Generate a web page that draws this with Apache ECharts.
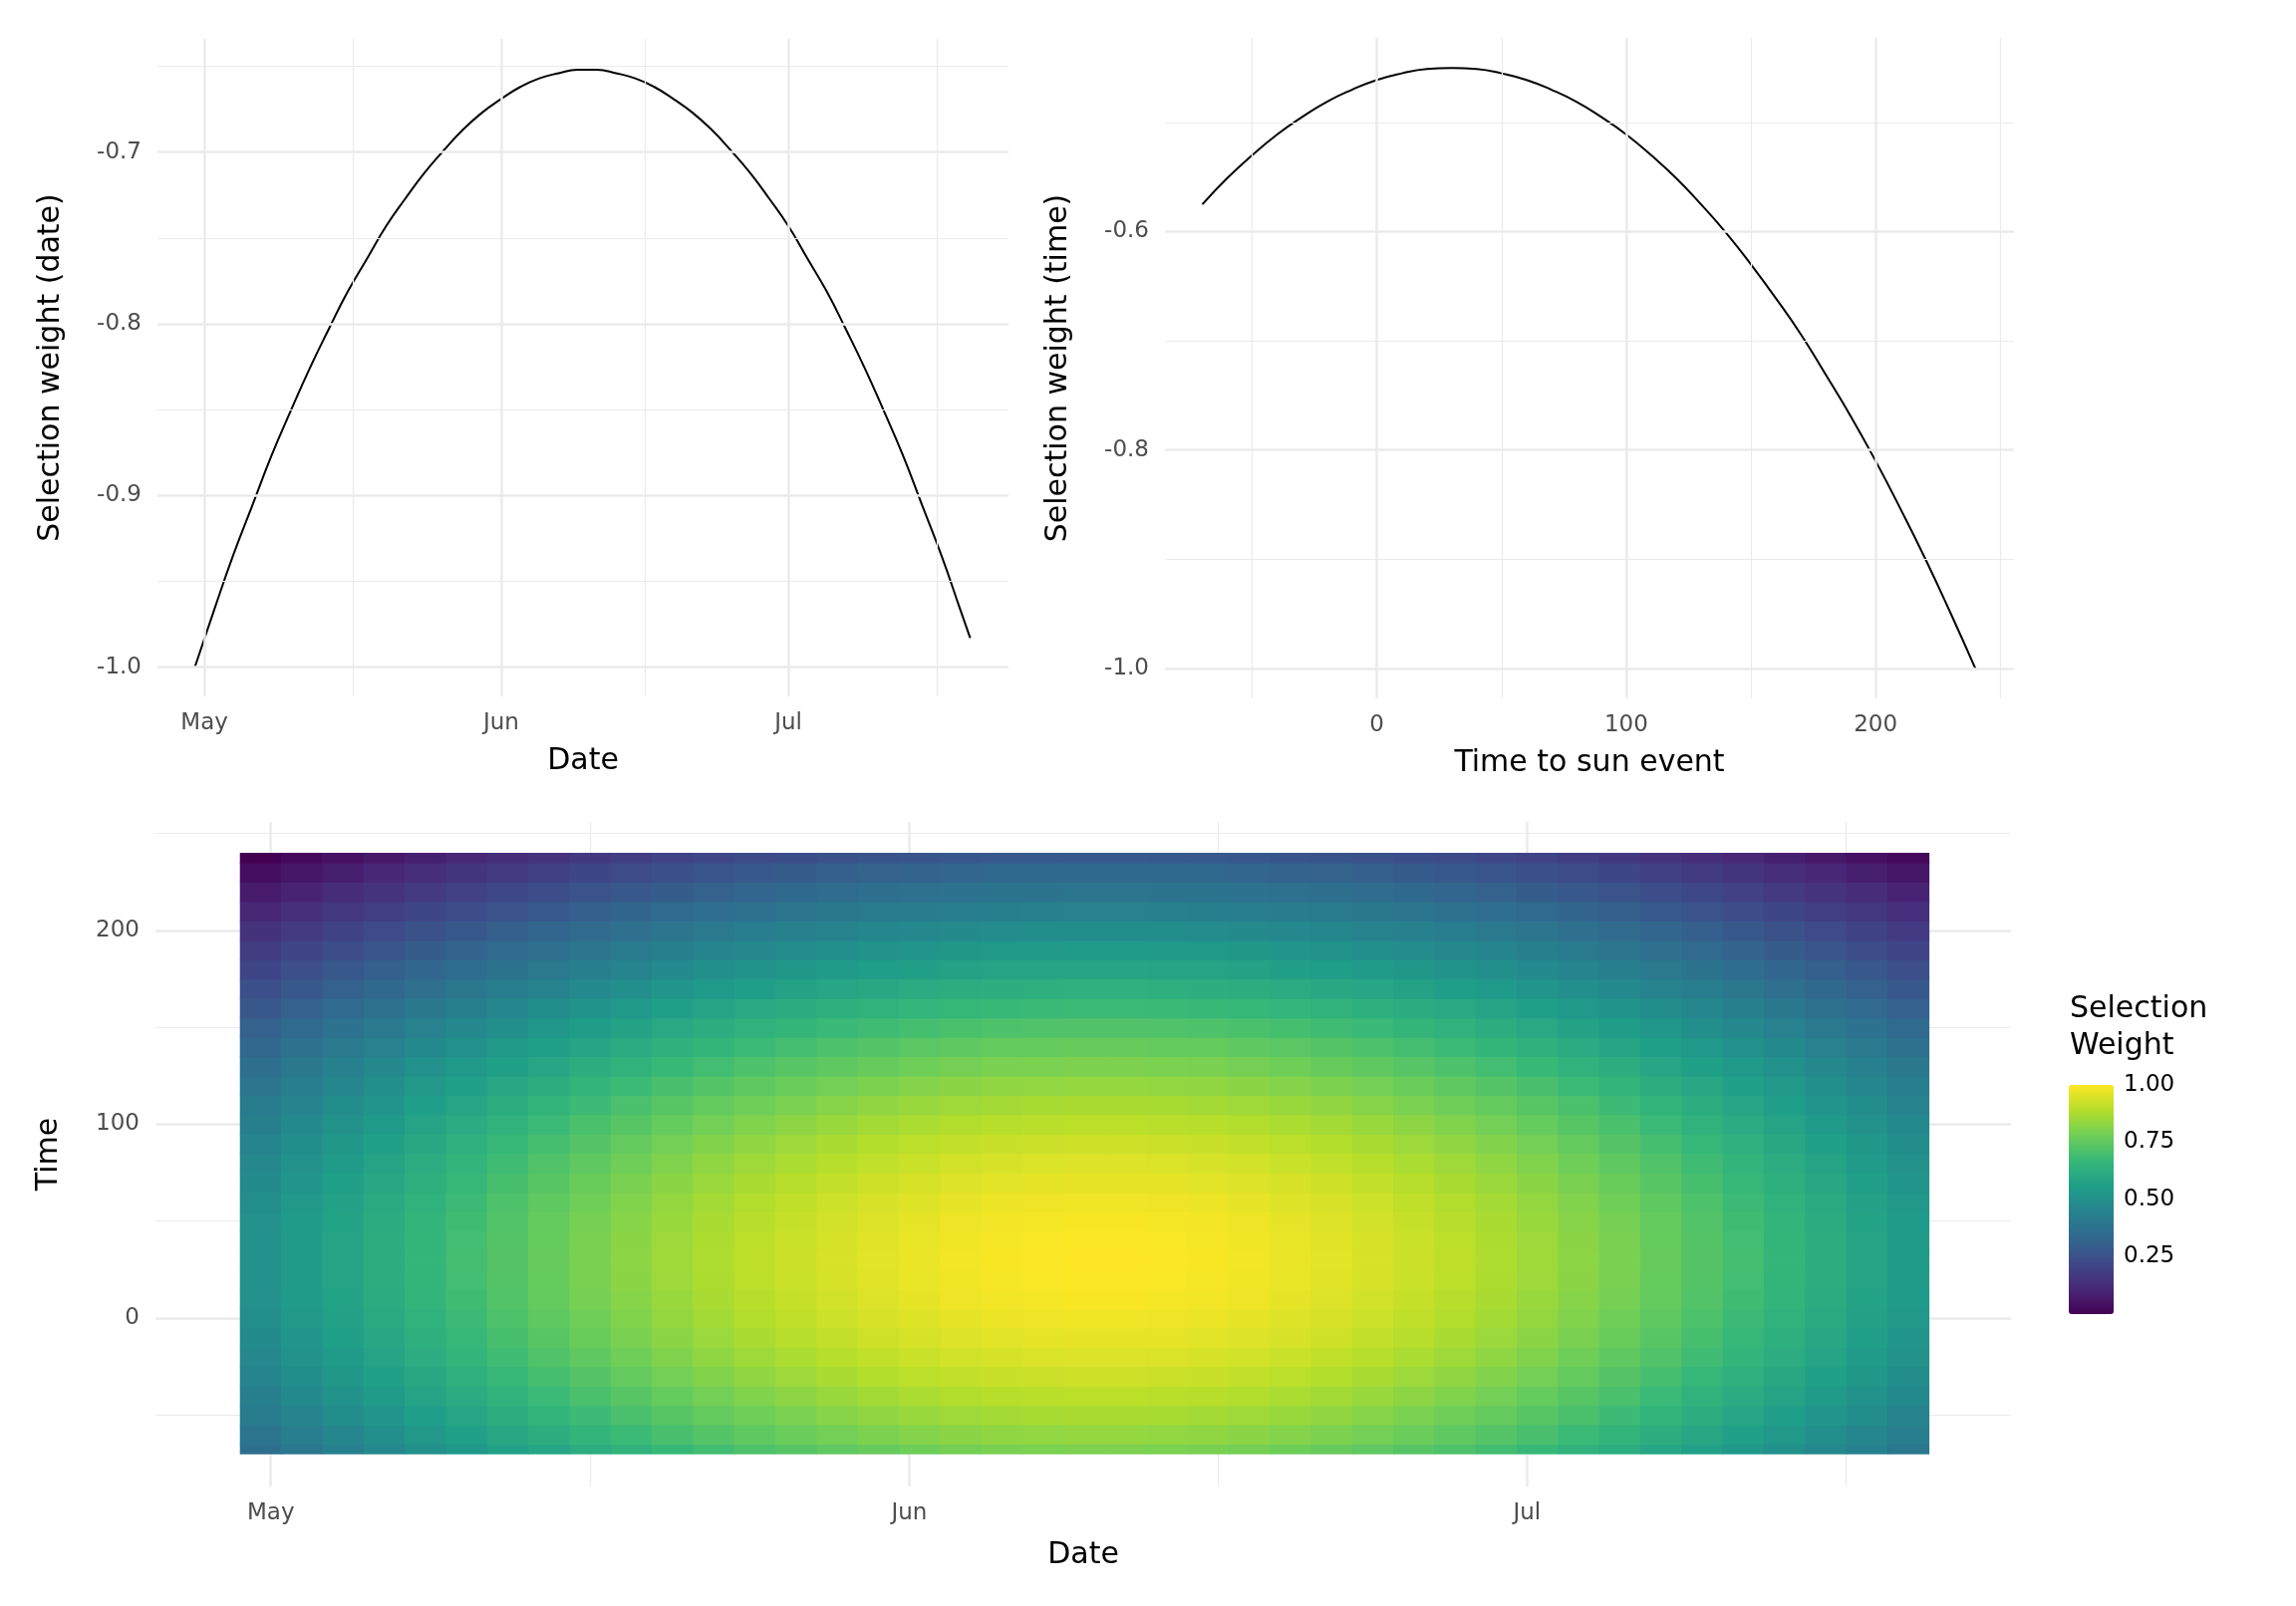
<!DOCTYPE html>
<html>
<head>
<meta charset="utf-8">
<script src="https://cdn.jsdelivr.net/npm/echarts@6/dist/echarts.min.js"></script>
<style>html,body{margin:0;background:#fff}#c{width:2304px;height:1612px}</style>
</head>
<body>
<div id="c"></div>
<script>
// days from May 1, every 2 days
const dateDays = [-1,1,3,5,7,9,11,13,15,17,19,21,23,25,27,29,31,33,35,37,39,41,43,45,47,49,51,53,55,57,59,61,63,65,67,69,71,73,75,77,79];
const dateWeight = [-1.000,-0.967,-0.935,-0.906,-0.877,-0.851,-0.826,-0.803,-0.781,-0.762,-0.743,-0.727,-0.712,-0.699,-0.687,-0.677,-0.669,-0.662,-0.657,-0.654,-0.652,-0.652,-0.654,-0.657,-0.662,-0.669,-0.677,-0.687,-0.699,-0.712,-0.727,-0.743,-0.762,-0.781,-0.803,-0.826,-0.851,-0.877,-0.906,-0.935,-0.967];
const dateEnd = [80, -0.983];
// minutes to sun event, every 10
const timeVals = [-70,-60,-50,-40,-30,-20,-10,0,10,20,30,40,50,60,70,80,90,100,110,120,130,140,150,160,170,180,190,200,210,220,230,240];
const timeWeight = [-0.575,-0.551,-0.530,-0.511,-0.495,-0.481,-0.470,-0.461,-0.455,-0.451,-0.450,-0.451,-0.455,-0.461,-0.470,-0.481,-0.495,-0.511,-0.530,-0.551,-0.575,-0.601,-0.630,-0.661,-0.694,-0.731,-0.769,-0.810,-0.854,-0.900,-0.949,-1.000];

const monthTicks = [0, 31, 61];
const monthLabels = {0: 'May', 31: 'Jun', 61: 'Jul'};
const monthMinor = [15.5, 46, 76.5];
const viridis = ['#440154','#482878','#3e4989','#31688e','#26828e','#1f9e89','#35b779','#6ece58','#b5de2b','#fde725'];

const tickFont = { color: '#4d4d4d', fontSize: 23, fontFamily: 'DejaVu Sans' };
const nameFont = { color: '#000', fontSize: 30, fontFamily: 'DejaVu Sans' };

// heat values: exp of summed weights, rescaled 0..1
const sums = [];
dateDays.forEach((d, i) => timeVals.forEach((t, j) => sums.push([d, t, Math.exp(dateWeight[i] + timeWeight[j])])));
const sMin = Math.min(...sums.map(s => s[2]));
const sMax = Math.max(...sums.map(s => s[2]));
const heat = sums.map(s => [s[0], s[1], (s[2] - sMin) / (sMax - sMin)]);
const tLo = timeVals[0], tHi = timeVals[timeVals.length - 1];

const gridLines = (xMajor, xMinor, yMajor, yMinor) => ({
  silent: true, symbol: 'none', label: { show: false },
  data: [].concat(
    xMinor.map(v => ({ xAxis: v, lineStyle: { color: '#ebebeb', width: 1.2, type: 'solid' } })),
    yMinor.map(v => ({ yAxis: v, lineStyle: { color: '#ebebeb', width: 1.2, type: 'solid' } })),
    xMajor.map(v => ({ xAxis: v, lineStyle: { color: '#ebebeb', width: 2.5, type: 'solid' } })),
    yMajor.map(v => ({ yAxis: v, lineStyle: { color: '#ebebeb', width: 2.5, type: 'solid' } }))
  )
});

const xAxisBase = (idx, min, max, ticks, fmt, name, gap) => ({
  type: 'value', gridIndex: idx, min, max, name, nameLocation: 'middle', nameGap: gap,
  nameTextStyle: nameFont,
  axisLine: { show: false }, axisTick: { show: false }, splitLine: { show: false },
  axisLabel: Object.assign({ customValues: ticks, formatter: fmt, margin: 16 }, tickFont)
});
const yAxisBase = (idx, min, max, ticks, fmt, name) => ({
  type: 'value', gridIndex: idx, min, max, name, nameLocation: 'middle', nameGap: 92,
  nameTextStyle: nameFont,
  axisLine: { show: false }, axisTick: { show: false }, splitLine: { show: false },
  axisLabel: Object.assign({ customValues: ticks, formatter: fmt, margin: 16 }, tickFont)
});

const chart = echarts.init(document.getElementById('c'));
chart.setOption({
  backgroundColor: '#fff',
  animation: false,
  grid: [
    { left: 158, width: 854, top: 39, height: 660 },
    { left: 1169, width: 852, top: 38, height: 663 },
    { left: 156, width: 1862, top: 825, height: 667 },
    { left: 2076, width: 45, top: 1089, height: 230 }
  ],
  xAxis: [
    xAxisBase(0, -4.9, 84, monthTicks, v => monthLabels[v] || '', 'Date', 50),
    xAxisBase(1, -85, 255.5, [0, 100, 200], v => String(v), 'Time to sun event', 50),
    xAxisBase(2, -5.6, 84.5, monthTicks, v => monthLabels[v] || '', 'Date', 54),
    { type: 'value', gridIndex: 3, show: false, min: 0, max: 1 }
  ],
  yAxis: [
    yAxisBase(0, -1.017, -0.634, [-1.0, -0.9, -0.8, -0.7], v => v.toFixed(1), 'Selection weight (date)'),
    yAxisBase(1, -1.0275, -0.4225, [-1.0, -0.8, -0.6], v => v.toFixed(1), 'Selection weight (time)'),
    yAxisBase(2, -87, 256, [0, 100, 200], v => String(v), 'Time'),
    { type: 'value', gridIndex: 3, min: 0, max: 1, position: 'right',
      axisLine: { show: false }, splitLine: { show: false },
      axisTick: { show: true, inside: true, length: 8, lineStyle: { color: '#fff', width: 1.5 }, customValues: [0.25, 0.5, 0.75, 1] },
      axisLabel: { customValues: [0.25, 0.5, 0.75, 1], formatter: v => v.toFixed(2), color: '#000', fontSize: 23, fontFamily: 'DejaVu Sans', margin: 10 } }
  ],
  visualMap: {
    type: 'continuous', seriesIndex: 4, dimension: 2, min: 0, max: 1,
    left: 2076, top: 1089, itemWidth: 45, itemHeight: 230, padding: 0,
    calculable: false, text: null, showLabel: false,
    inRange: { color: viridis }
  },
  graphic: [{
    type: 'text', left: 2077, top: 995,
    style: { text: 'Selection\nWeight', fill: '#000', fontSize: 30, fontFamily: 'DejaVu Sans', lineHeight: 37 }
  }],
  series: [
    { type: 'line', xAxisIndex: 0, yAxisIndex: 0, showSymbol: false, smooth: true,
      data: dateDays.map((d, i) => [d, dateWeight[i]]).concat([dateEnd]),
      lineStyle: { color: '#000', width: 2 }, z: 3,
      markLine: gridLines(monthTicks, monthMinor, [-1.0, -0.9, -0.8, -0.7], [-0.95, -0.85, -0.75, -0.65]) },
    { type: 'line', xAxisIndex: 1, yAxisIndex: 1, showSymbol: false, smooth: true,
      data: timeVals.map((t, i) => [t, timeWeight[i]]),
      lineStyle: { color: '#000', width: 2 }, z: 3,
      markLine: gridLines([0, 100, 200], [-50, 50, 150, 250], [-1.0, -0.8, -0.6], [-0.9, -0.7, -0.5]) },
    { type: 'line', xAxisIndex: 2, yAxisIndex: 2, data: [], z: 1,
      markLine: gridLines(monthTicks, monthMinor, [0, 100, 200], [-50, 50, 150, 250]) },
    { type: 'line', xAxisIndex: 3, yAxisIndex: 3, data: [] },
    { type: 'custom', xAxisIndex: 2, yAxisIndex: 2, zlevel: 1, z: 5, data: heat,
      renderItem: (params, api) => {
        const t = api.value(1);
        const p0 = api.coord([api.value(0) - 0.5, Math.min(t + 5, tHi)]);
        const p1 = api.coord([api.value(0) + 1.5, Math.max(t - 5, tLo)]);
        return { type: 'rect',
          shape: { x: p0[0], y: p0[1], width: p1[0] - p0[0] + 0.8, height: p1[1] - p0[1] + 0.8 },
          style: { fill: api.visual('color') } };
      } }
  ]
});
</script>
</body>
</html>
